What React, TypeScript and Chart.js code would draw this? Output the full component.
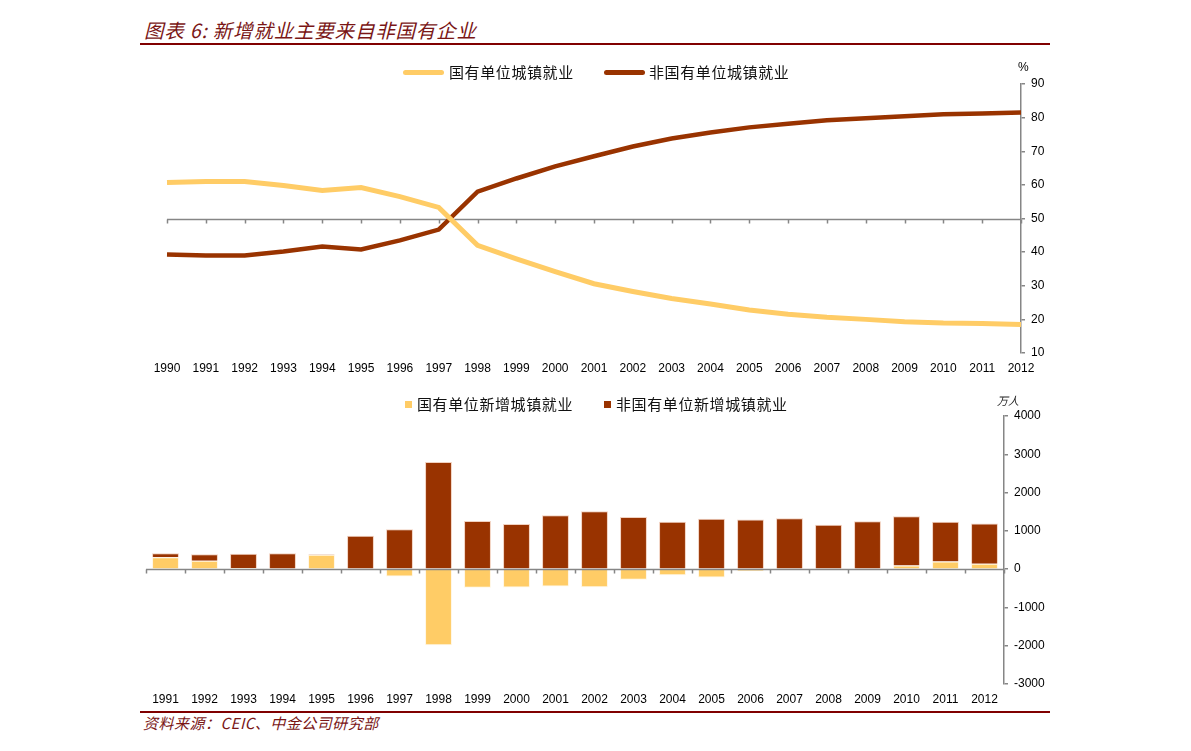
import React, { useEffect, useRef } from "react";
import { Chart, registerables } from "chart.js";

Chart.register(...registerables);

// Employment share by ownership, urban employment (%)
const shareYears = ["1990","1991","1992","1993","1994","1995","1996","1997","1998","1999","2000","2001","2002","2003","2004","2005","2006","2007","2008","2009","2010","2011","2012"];
const stateShare = [60.7, 61.0, 61.0, 59.8, 58.3, 59.2, 56.5, 53.3, 42.0, 38.0, 34.2, 30.6, 28.3, 26.2, 24.6, 22.8, 21.5, 20.6, 20.0, 19.3, 18.9, 18.8, 18.5];
const nonStateShare = [39.3, 39.0, 39.0, 40.2, 41.7, 40.8, 43.5, 46.7, 58.0, 61.9, 65.5, 68.5, 71.4, 73.8, 75.6, 77.1, 78.2, 79.2, 79.8, 80.4, 81.0, 81.2, 81.5];
const shareTicks = { min: 10, max: 90, step: 10 };

// New urban employment by ownership (10k persons)
const newYears = ["1991","1992","1993","1994","1995","1996","1997","1998","1999","2000","2001","2002","2003","2004","2005","2006","2007","2008","2009","2010","2011","2012"];
const stateNew = [310, 220, 30, -10, 375, -5, -190, -1985, -485, -480, -455, -470, -280, -157, -217, -52, -5, -10, -15, 97, 200, 138];
const nonStateNew = [105, 170, 370, 415, 15, 870, 1045, 2800, 1260, 1180, 1410, 1515, 1365, 1235, 1313, 1297, 1331, 1157, 1253, 1287, 1035, 1055];
const newTicks = { min: -3000, max: 4000, step: 1000 };

const YELLOW = "#FFCC66";
const BROWN = "#993300";
const AXIS = "#868686";
const RED = "#7A1616";
const CJK = '"Noto Sans CJK SC", "Noto Sans", sans-serif';
const NUM = '"Liberation Sans", Arial, sans-serif';

// Horizontal reference line through the category axis, with small tick marks
const refLine = (value: number, atBoundaries: boolean, before: boolean) => {
  const draw = (chart: any) => {
    const { ctx, chartArea, scales } = chart;
    const x = scales.x;
    const y = scales.y;
    const py = Math.round(y.getPixelForValue(value)) + 0.5;
    ctx.save();
    ctx.strokeStyle = AXIS;
    ctx.lineWidth = 1.5;
    ctx.beginPath();
    ctx.moveTo(chartArea.left, py);
    ctx.lineTo(chartArea.right, py);
    const n = x.ticks.length;
    for (let i = 0; i <= (atBoundaries ? n : n - 1); i++) {
      const px = atBoundaries
        ? (i < n ? x.getPixelForTick(i) - (x.getPixelForTick(1) - x.getPixelForTick(0)) / 2 : chartArea.right)
        : x.getPixelForTick(i);
      const rx = Math.round(px) + 0.5;
      ctx.moveTo(rx, py);
      ctx.lineTo(rx, py + 4);
    }
    ctx.stroke();
    ctx.restore();
  };
  return before
    ? { id: "refLine", beforeDatasetsDraw: draw }
    : { id: "refLine", afterDatasetsDraw: draw };
};

const plainNumber = (v: any) => String(v);

function ShareChart() {
  const ref = useRef<HTMLCanvasElement>(null);
  useEffect(() => {
    const chart = new Chart(ref.current!, {
      type: "line",
      data: {
        labels: shareYears,
        datasets: [
          { label: "国有单位城镇就业", data: stateShare, borderColor: YELLOW, borderWidth: 5, pointRadius: 0, tension: 0 },
          { label: "非国有单位城镇就业", data: nonStateShare, borderColor: BROWN, borderWidth: 4.5, pointRadius: 0, tension: 0 },
        ],
      },
      options: {
        animation: false,
        responsive: false,
        layout: { padding: { left: 67, top: 24, right: 0, bottom: 0 } },
        plugins: { legend: { display: false }, tooltip: { enabled: false } },
        scales: {
          x: {
            offset: false,
            grid: { display: false, drawTicks: false },
            border: { display: false },
            ticks: { autoSkip: false, maxRotation: 0, padding: 8, color: "#000", font: { family: NUM, size: 12 } },
            afterFit: (s: any) => { s.height = 27; },
          },
          y: {
            position: "right",
            min: shareTicks.min,
            max: shareTicks.max,
            grid: { drawOnChartArea: false, drawTicks: true, tickLength: 4, color: AXIS, lineWidth: 1.5 },
            border: { display: true, color: AXIS, width: 1.5 },
            ticks: { stepSize: shareTicks.step, padding: 6, color: "#000", font: { family: NUM, size: 12 }, callback: plainNumber },
            afterFit: (s: any) => { s.width = 79; },
          },
        },
      },
      plugins: [refLine(50, false, true)],
    });
    return () => chart.destroy();
  }, []);
  return <canvas ref={ref} width={1000} height={320} style={{ position: "absolute", left: 100, top: 60, width: 1000, height: 320 }} />;
}

function NewJobsChart() {
  const ref = useRef<HTMLCanvasElement>(null);
  useEffect(() => {
    const chart = new Chart(ref.current!, {
      type: "bar",
      data: {
        labels: newYears,
        datasets: [
          { label: "国有单位新增城镇就业", data: stateNew, backgroundColor: YELLOW, borderColor: "rgba(255,240,210,0.6)", borderWidth: 1 },
          { label: "非国有单位新增城镇就业", data: nonStateNew, backgroundColor: BROWN, borderColor: "rgba(235,190,165,0.7)", borderWidth: 1 },
        ],
      },
      options: {
        animation: false,
        responsive: false,
        layout: { padding: { left: 46, top: 21, right: 0, bottom: 0 } },
        plugins: { legend: { display: false }, tooltip: { enabled: false } },
        datasets: { bar: { categoryPercentage: 0.69, barPercentage: 1 } },
        scales: {
          x: {
            stacked: true,
            grid: { display: false, drawTicks: false },
            border: { display: false },
            ticks: { autoSkip: false, maxRotation: 0, padding: 8, color: "#000", font: { family: NUM, size: 12 } },
            afterFit: (s: any) => { s.height = 21; },
          },
          y: {
            stacked: true,
            position: "right",
            min: newTicks.min,
            max: newTicks.max,
            grid: { drawOnChartArea: false, drawTicks: true, tickLength: 4, color: AXIS, lineWidth: 1.5 },
            border: { display: true, color: AXIS, width: 1.5 },
            ticks: { stepSize: newTicks.step, padding: 6, color: "#000", font: { family: NUM, size: 12 }, callback: plainNumber },
            afterFit: (s: any) => { s.width = 96; },
          },
        },
      },
      plugins: [refLine(0, true, false)],
    });
    return () => chart.destroy();
  }, []);
  return <canvas ref={ref} width={1000} height={310} style={{ position: "absolute", left: 100, top: 395, width: 1000, height: 310 }} />;
}

const abs = (left: number, top: number, extra: React.CSSProperties = {}): React.CSSProperties => ({
  position: "absolute", left, top, whiteSpace: "nowrap", ...extra,
});

export default function App() {
  const legendText: React.CSSProperties = { fontFamily: CJK, fontSize: 15, letterSpacing: 0.6, color: "#111", lineHeight: "20px" };
  return (
    <div style={{ position: "absolute", left: 0, top: 0, width: 1191, height: 751, background: "#fff", overflow: "hidden" }}>
      <div style={abs(144, 17, { fontFamily: CJK, fontSize: 19.5, fontStyle: "italic", color: RED, lineHeight: "26px", letterSpacing: 0.8 })}>
        图表 6: 新增就业主要来自非国有企业
      </div>
      <div style={abs(140, 43, { width: 910, height: 1.5, background: "#800000" })} />

      <ShareChart />
      <NewJobsChart />

      {/* legend of the share chart */}
      <div style={abs(403, 70, { width: 41, height: 5, borderRadius: 2.5, background: YELLOW })} />
      <div style={abs(449, 62, legendText)}>国有单位城镇就业</div>
      <div style={abs(604, 70, { width: 41, height: 5, borderRadius: 2.5, background: BROWN })} />
      <div style={abs(649, 62, legendText)}>非国有单位城镇就业</div>
      <div style={abs(1018, 60, { fontFamily: NUM, fontSize: 12, color: "#000" })}>%</div>

      {/* legend of the new-jobs chart */}
      <div style={abs(405, 401, { width: 7, height: 7, background: YELLOW })} />
      <div style={abs(417, 394, legendText)}>国有单位新增城镇就业</div>
      <div style={abs(604, 401, { width: 7, height: 7, background: BROWN })} />
      <div style={abs(616, 394, legendText)}>非国有单位新增城镇就业</div>
      <div style={abs(997, 392, { fontFamily: CJK, fontSize: 11, fontStyle: "italic", color: "#222" })}>万人</div>

      <div style={abs(140, 711, { width: 910, height: 1.5, background: "#800000" })} />
      <div style={abs(143, 712, { fontFamily: CJK, fontSize: 15, fontStyle: "italic", color: RED, lineHeight: "22px", letterSpacing: 0.5 })}>
        资料来源：CEIC、中金公司研究部
      </div>
    </div>
  );
}
